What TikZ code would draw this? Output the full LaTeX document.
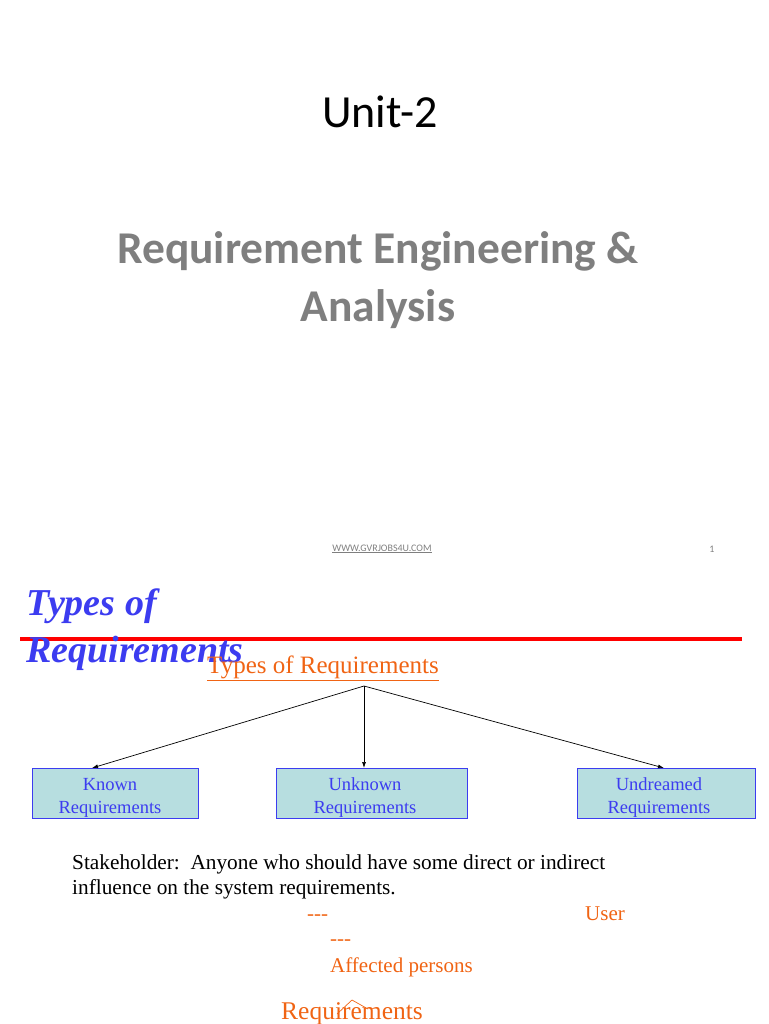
\documentclass[tikz,border=0pt]{standalone}
\usepackage{fontspec}
\setmainfont{Liberation Serif}
\newfontfamily\carlitofont{Carlito}
\usetikzlibrary{arrows.meta}
\definecolor{tgray}{RGB}{127,127,127}
\definecolor{tblue}{RGB}{60,60,240}
\definecolor{torange}{RGB}{240,100,20}
\definecolor{tfill}{RGB}{183,222,224}
\tikzset{
 rbox/.style={draw=tblue,fill=tfill,line width=0.8pt,minimum height=50pt},
 rtext/.style={align=center,font=\fontsize{18.5}{23}\selectfont,text=tblue,inner sep=1pt},
 conn/.style={-{Latex[length=6pt,width=4pt]},line width=0.7pt},
 otext/.style={text=torange,font=\fontsize{21}{24}\selectfont,anchor=base west,inner sep=0}
}
\begin{document}
\begin{tikzpicture}[x=1pt,y=-1pt]
\useasboundingbox (0,0) rectangle (768,1024);
\node[font=\carlitofont\fontsize{46}{50}\selectfont] (u) at (380,112) {Unit-2};
\node[text=tgray,align=center,font=\carlitofont\bfseries\fontsize{45.5}{58}\selectfont] (t) at (378,280) {Requirement Engineering \&\\ Analysis};
\node[text=tgray,font=\carlitofont\fontsize{10}{12}\selectfont] (w) at (382,549) {\underline{WWW.GVRJOBS4U.COM}};
\node[text=tgray,font=\carlitofont\fontsize{10}{12}\selectfont] (p) at (712,549) {1};
\node[anchor=west,text=tblue,inner sep=0,font=\fontsize{38}{40}\selectfont\bfseries\itshape] (h1) at (26,606) {Types of};
\draw[red,line width=4pt] (20,639) -- (742,639);
\node[anchor=west,text=tblue,inner sep=0,font=\fontsize{38}{40}\selectfont\bfseries\itshape] (h2) at (26,653) {Requirements};
\node[text=torange,font=\fontsize{25}{28}\selectfont] (tr) at (323,668) {\underline{Types of Requirements}};
\coordinate (apex) at (364,686);
\node[rbox,minimum width=166pt] (k) at (115,793) {};
\node[rbox,minimum width=191pt] (un) at (371.5,793) {};
\node[rbox,minimum width=178pt] (ud) at (666,793) {};
\node[rtext] (kt) at (110,798) {Known\\Requirements};
\node[rtext] (unt) at (365,798) {Unknown\\Requirements};
\node[rtext] (udt) at (659,798) {Undreamed\\Requirements};
\draw[conn] (apex) -- (92,768);
\draw[conn] (apex) -- (364,768);
\draw[conn] (apex) -- (664,768);
\node[anchor=base west,inner sep=0,align=left,font=\fontsize{21.3}{25}\selectfont] (s) at (72,894) {Stakeholder:\ \ Anyone who should have some direct or indirect\\influence on the system requirements.};
\node[otext] (d1) at (307,920) {{-}{-}{-}};
\node[otext] (us) at (585,920) {User};
\node[otext] (d2) at (330,945) {{-}{-}{-}};
\node[otext] (af) at (330,972) {Affected persons};
\node[text=torange,font=\fontsize{25.5}{28}\selectfont] (rq) at (352,1014) {Requirements};
\draw[torange,line width=0.7pt] (337,1014) -- (352,1000) -- (368,1009);
\end{tikzpicture}
\end{document}
